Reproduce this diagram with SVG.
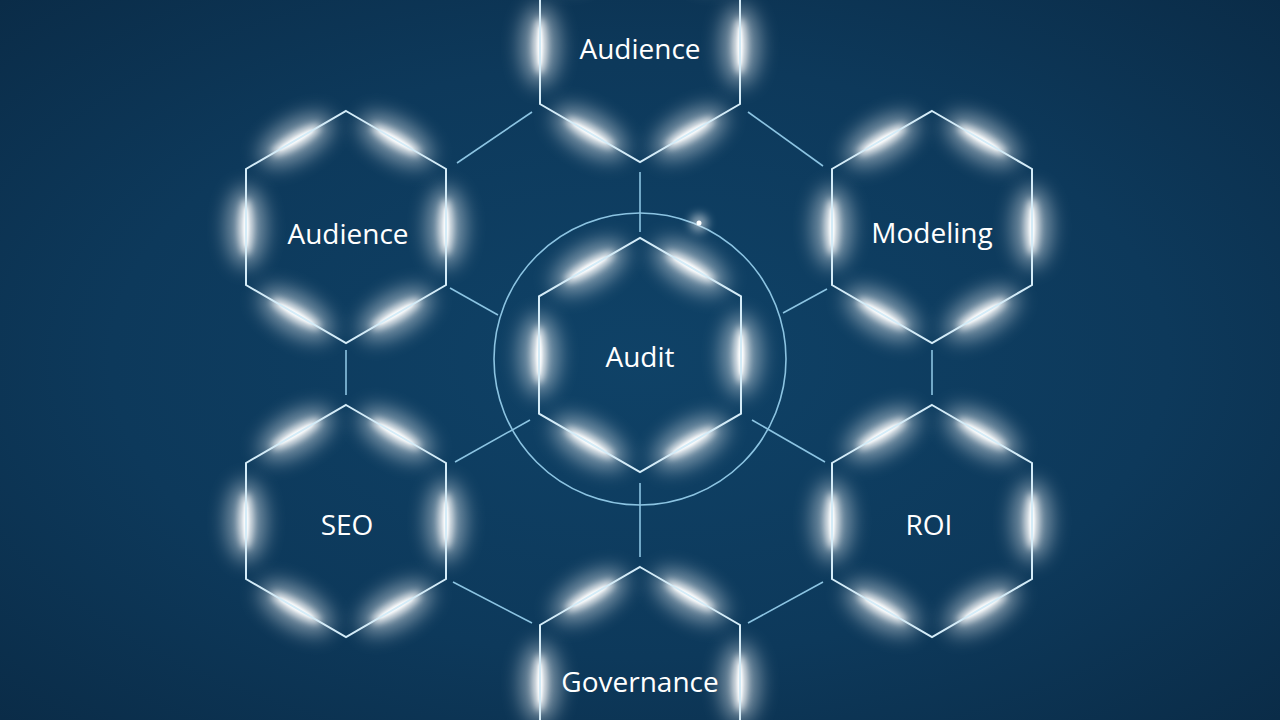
<svg xmlns="http://www.w3.org/2000/svg" xmlns:xlink="http://www.w3.org/1999/xlink" width="1280" height="720" viewBox="0 0 1280 720">
  <defs>
    <radialGradient id="bg" cx="50%" cy="50%" r="75%">
      <stop offset="0" stop-color="#0f4267"/>
      <stop offset="0.55" stop-color="#0d395b"/>
      <stop offset="1" stop-color="#0a2a45"/>
    </radialGradient>
    <filter id="blurW" x="-100%" y="-200%" width="300%" height="500%">
      <feGaussianBlur stdDeviation="10"/>
    </filter>
    <filter id="blurM" x="-100%" y="-200%" width="300%" height="500%">
      <feGaussianBlur stdDeviation="3.5"/>
    </filter>
    <filter id="blurS" x="-100%" y="-200%" width="300%" height="500%">
      <feGaussianBlur stdDeviation="0.9"/>
    </filter>
    <g id="edgeGlow">
      <ellipse cx="0" cy="0" rx="40" ry="19" fill="#ffffff" opacity="0.5" filter="url(#blurW)"/>
      <ellipse cx="0" cy="0" rx="28" ry="7" fill="#ffffff" opacity="0.8" filter="url(#blurM)"/>
      <ellipse cx="0" cy="0" rx="20" ry="2.6" fill="#ffffff" filter="url(#blurS)"/>
    </g>
    <g id="hexGlow">
      <use xlink:href="#edgeGlow" transform="translate(50,-87) rotate(30)"/>
      <use xlink:href="#edgeGlow" transform="translate(100,0) rotate(90)"/>
      <use xlink:href="#edgeGlow" transform="translate(50,87) rotate(-30)"/>
      <use xlink:href="#edgeGlow" transform="translate(-50,87) rotate(30)"/>
      <use xlink:href="#edgeGlow" transform="translate(-100,0) rotate(90)"/>
      <use xlink:href="#edgeGlow" transform="translate(-50,-87) rotate(-30)"/>
      <polygon points="0,-116 100,-58 100,58 0,116 -100,58 -100,-58" fill="none" stroke="#d4ecf8" stroke-width="2"/>
    </g>
    <filter id="dotBlur" x="-200%" y="-200%" width="500%" height="500%">
      <feGaussianBlur stdDeviation="5"/>
    </filter>
  </defs>
  <style>
    .lbl { font-family: "Open Sans", "Liberation Sans", sans-serif; font-size: 28px; font-weight: 500; fill: #ffffff; text-anchor: middle; }
    .conn line { stroke: #8cc4e2; stroke-width: 1.6; }
  </style>

  <rect x="0" y="0" width="1280" height="720" fill="url(#bg)"/>

  <g id="connectors" class="conn">
    <line x1="640" y1="172" x2="640" y2="232"/>
    <line x1="640" y1="483" x2="640" y2="557"/>
    <line x1="457" y1="163" x2="532" y2="112"/>
    <line x1="748" y1="112" x2="823" y2="166"/>
    <line x1="450" y1="288" x2="498" y2="315"/>
    <line x1="783" y1="313" x2="827" y2="289"/>
    <line x1="455" y1="462" x2="530" y2="420"/>
    <line x1="752" y1="420" x2="825" y2="462"/>
    <line x1="453" y1="582" x2="532" y2="623"/>
    <line x1="748" y1="623" x2="823" y2="582"/>
    <line x1="346" y1="350" x2="346" y2="395"/>
    <line x1="932" y1="350" x2="932" y2="395"/>
    <circle cx="640" cy="359" r="146" fill="none" stroke="#8cc4e2" stroke-width="1.6"/>
    <circle cx="699" cy="223" r="9" fill="#ffffff" opacity="0.55" filter="url(#dotBlur)"/>
    <circle cx="699" cy="223" r="2.5" fill="#ffffff"/>
  </g>

  <g id="node-top">
    <use xlink:href="#hexGlow" transform="translate(640,46)"/>
    <text class="lbl" x="640" y="59">Audience</text>
  </g>
  <g id="node-topleft">
    <use xlink:href="#hexGlow" transform="translate(346,227)"/>
    <text class="lbl" x="348" y="244">Audience</text>
  </g>
  <g id="node-topright">
    <use xlink:href="#hexGlow" transform="translate(932,227)"/>
    <text class="lbl" x="932" y="243">Modeling</text>
  </g>
  <g id="node-center">
    <use xlink:href="#hexGlow" transform="translate(640,355) scale(1.01)"/>
    <text class="lbl" x="640" y="367">Audit</text>
  </g>
  <g id="node-bottomleft">
    <use xlink:href="#hexGlow" transform="translate(346,521)"/>
    <text class="lbl" x="347" y="535">SEO</text>
  </g>
  <g id="node-bottomright">
    <use xlink:href="#hexGlow" transform="translate(932,521)"/>
    <text class="lbl" x="929" y="535">ROI</text>
  </g>
  <g id="node-bottom">
    <use xlink:href="#hexGlow" transform="translate(640,683)"/>
    <text class="lbl" x="640" y="692">Governance</text>
  </g>
</svg>
